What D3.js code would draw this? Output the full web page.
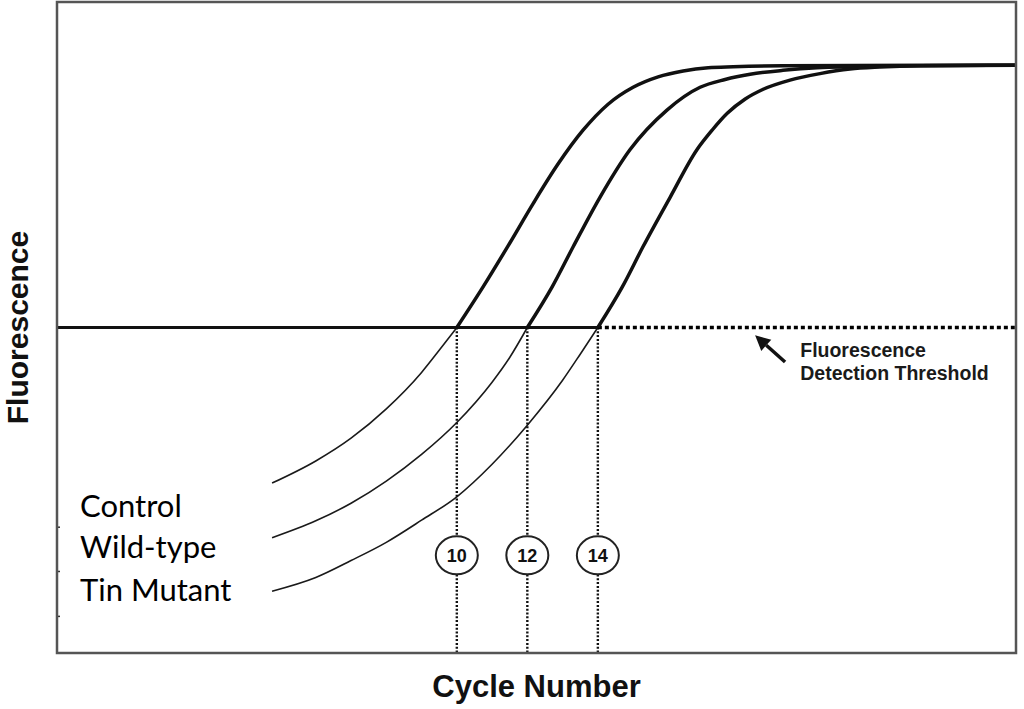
<!DOCTYPE html>
<html>
<head>
<meta charset="utf-8">
<script src="https://cdn.jsdelivr.net/npm/d3@7"></script>
<style>
  body { margin: 0; background: #fff; }
  svg { display: block; }
</style>
</head>
<body>
<div id="chart"></div>
<script>
// qPCR amplification curves, values as [cycle, fluorescence]
const seriesNames = ["Control", "Wild-type", "Tin Mutant"];
const ctValues = [10, 12, 14];
const threshold = 50;

// thin part, below the detection threshold
const controlLow = [[4.76, 26.1], [6, 29.5], [7, 33.0], [8, 37.5], [9, 43.1], [9.5, 46.5], [10, 50]];
const wildLow = [[4.76, 17.7], [6, 20.3], [7, 23.0], [8, 26.4], [9, 30.5], [10, 35.4], [11, 41.6], [11.5, 45.4], [12, 50]];
const tinLow = [[4.76, 9.5], [6, 11.6], [7, 14.2], [8, 17.0], [9, 20.4], [10, 24.0], [11, 29.0], [12, 35.0], [13, 41.9], [13.5, 45.9], [14, 50]];

// bold part, above the threshold
const controlHigh = [[10, 50], [10.74, 56.2], [11.45, 62.5], [12.16, 69.0], [12.87, 75.1], [13.58, 80.3], [14.29, 84.3], [15.0, 86.9], [15.71, 88.5], [16.42, 89.4], [17.13, 89.9], [17.84, 90.05], [19.25, 90.2], [25.86, 90.3]];
const wildHigh = [[12, 50], [12.70, 56.2], [13.30, 62.4], [14.06, 70.0], [14.91, 77.3], [15.96, 83.4], [16.90, 86.9], [17.61, 88.1], [18.32, 88.9], [19.25, 89.5], [20.22, 89.9], [22.0, 90.15], [25.86, 90.3]];
const tinHigh = [[14, 50], [14.69, 56.2], [15.28, 62.4], [16.05, 70.0], [16.81, 77.3], [17.24, 80.3], [17.67, 82.9], [18.18, 85.1], [18.69, 86.6], [19.45, 88.0], [20.30, 89.0], [21.15, 89.7], [22.0, 90.0], [23.14, 90.2], [25.86, 90.3]];

const yMinorTicks = [5.7, 12.6, 19.4];
const circleLevel = 15;

// annotation anchors (cycle, fluorescence)
const arrowTip = [18.46, 48.8];
const arrowTail = [19.31, 44.7];
const noteLines = ["Fluorescence", "Detection Threshold"];
const noteAnchor = [19.74, 45.5];
const legendLevels = [20.9, 14.6, 8.0];

const width = 1024, height = 709;
const margin = { top: 2, right: 8, bottom: 56, left: 57 };

const svg = d3.select("#chart").append("svg")
  .attr("width", width)
  .attr("height", height);

svg.append("rect").attr("width", width).attr("height", height).attr("fill", "#fff");

const x = d3.scaleLinear()
  .domain([-1.34, 25.86])
  .range([margin.left, width - margin.right]);

const y = d3.scaleLinear()
  .domain([0, 100])
  .range([height - margin.bottom, margin.top]);

const line = d3.line()
  .x(d => x(d[0]))
  .y(d => y(d[1]))
  .curve(d3.curveMonotoneX);

const lows = [controlLow, wildLow, tinLow];
const highs = [controlHigh, wildHigh, tinHigh];

// thin curves
svg.append("g").selectAll("path")
  .data(lows)
  .join("path")
  .attr("d", line)
  .attr("fill", "none")
  .attr("stroke", "#1a1a1a")
  .attr("stroke-width", 1.6);

// vertical dotted lines at the Ct values
svg.append("g").selectAll("line")
  .data(ctValues)
  .join("line")
  .attr("x1", d => x(d)).attr("x2", d => x(d))
  .attr("y1", y(threshold)).attr("y2", y(0))
  .attr("stroke", "#111")
  .attr("stroke-width", 2.4)
  .attr("stroke-dasharray", "2,1.8");

// threshold: solid up to last Ct, dotted after
const lastCt = d3.max(ctValues);
svg.append("line")
  .attr("x1", x.range()[0]).attr("x2", x(lastCt))
  .attr("y1", y(threshold)).attr("y2", y(threshold))
  .attr("stroke", "#111")
  .attr("stroke-width", 3);

svg.append("line")
  .attr("x1", x(lastCt)).attr("x2", x.range()[1])
  .attr("y1", y(threshold)).attr("y2", y(threshold))
  .attr("stroke", "#000")
  .attr("stroke-width", 3.5)
  .attr("stroke-dasharray", "4,3");

// bold curves
svg.append("g").selectAll("path")
  .data(highs)
  .join("path")
  .attr("d", line)
  .attr("fill", "none")
  .attr("stroke", "#111")
  .attr("stroke-width", 3.5)
  .attr("stroke-linejoin", "round");

// Ct circles
const badges = svg.append("g").selectAll("g")
  .data(ctValues)
  .join("g")
  .attr("transform", d => `translate(${x(d)},${y(circleLevel)})`);

badges.append("ellipse")
  .attr("rx", 21).attr("ry", 19)
  .attr("fill", "#fff")
  .attr("stroke", "#222")
  .attr("stroke-width", 2);

badges.append("text")
  .attr("text-anchor", "middle")
  .attr("dy", "0.36em")
  .attr("font-family", "Liberation Sans, Arial, sans-serif")
  .attr("font-weight", "bold")
  .attr("font-size", 18)
  .attr("fill", "#111")
  .text(d => d);

// little ticks on the left axis
svg.append("g")
  .attr("transform", `translate(${margin.left},0)`)
  .call(d3.axisLeft(y).tickValues(yMinorTicks).tickSize(-3).tickFormat(""))
  .call(g => g.select(".domain").remove())
  .call(g => g.selectAll("line").attr("stroke", "#333").attr("stroke-width", 1.5));

// frame
svg.append("rect")
  .attr("x", x.range()[0]).attr("y", y.range()[1])
  .attr("width", x.range()[1] - x.range()[0])
  .attr("height", y.range()[0] - y.range()[1])
  .attr("fill", "none")
  .attr("stroke", "#555")
  .attr("stroke-width", 2.5);

// arrow to the threshold
const tip = [x(arrowTip[0]), y(arrowTip[1])];
const tail = [x(arrowTail[0]), y(arrowTail[1])];
const ang = Math.atan2(tip[1] - tail[1], tip[0] - tail[0]);
const headLen = 15, headW = 7.5;
const base = [tip[0] - headLen * Math.cos(ang), tip[1] - headLen * Math.sin(ang)];
svg.append("line")
  .attr("x1", tail[0]).attr("y1", tail[1])
  .attr("x2", base[0]).attr("y2", base[1])
  .attr("stroke", "#111")
  .attr("stroke-width", 3.5);
svg.append("path")
  .attr("d", d3.line()([
    tip,
    [base[0] + headW * Math.sin(ang), base[1] - headW * Math.cos(ang)],
    [base[0] - headW * Math.sin(ang), base[1] + headW * Math.cos(ang)]
  ]) + "Z")
  .attr("fill", "#111");

svg.append("g").selectAll("text")
  .data(noteLines)
  .join("text")
  .attr("x", x(noteAnchor[0]))
  .attr("y", (d, i) => y(noteAnchor[1]) + i * 23)
  .attr("font-family", "Liberation Sans, Arial, sans-serif")
  .attr("font-weight", "bold")
  .attr("font-size", 19.5)
  .attr("fill", "#1a1a1a")
  .text(d => d);

// series labels
svg.append("g").selectAll("text")
  .data(seriesNames)
  .join("text")
  .attr("x", margin.left + 23)
  .attr("y", (d, i) => y(legendLevels[i]))
  .attr("font-family", "Lato, sans-serif")
  .attr("font-size", 31)
  .attr("fill", "#000")
  .text(d => d);

// axis titles
svg.append("text")
  .attr("x", (x.range()[0] + x.range()[1]) / 2)
  .attr("y", 697)
  .attr("text-anchor", "middle")
  .attr("font-family", "Liberation Sans, Arial, sans-serif")
  .attr("font-weight", "bold")
  .attr("font-size", 31)
  .attr("fill", "#111")
  .text("Cycle Number");

svg.append("text")
  .attr("transform", `translate(28,${(y.range()[0] + y.range()[1]) / 2}) rotate(-90)`)
  .attr("text-anchor", "middle")
  .attr("font-family", "Liberation Sans, Arial, sans-serif")
  .attr("font-weight", "bold")
  .attr("font-size", 30)
  .attr("fill", "#111")
  .text("Fluorescence");
</script>
</body>
</html>
